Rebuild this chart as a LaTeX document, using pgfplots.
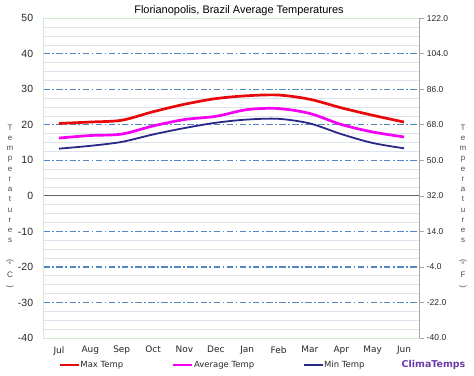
\documentclass[border=0pt]{standalone}
\usepackage{pgfplots}
\pgfplotsset{compat=1.18}
\usepackage{graphicx}
\usepackage{fontspec}
\setmainfont{Liberation Sans}
\newfontfamily\verd{DejaVu Sans}
\definecolor{maxc}{RGB}{232,10,10}
\definecolor{avgc}{RGB}{245,0,245}
\definecolor{minc}{RGB}{40,40,135}
\definecolor{gridlight}{RGB}{222,228,238}
\definecolor{gridv}{RGB}{140,140,140}
\definecolor{dashc}{RGB}{80,135,195}
\definecolor{bordc}{RGB}{204,236,204}
\definecolor{zeroc}{RGB}{100,100,100}
\definecolor{climac}{RGB}{110,60,170}
\pgfplotstableread{
x maxt avgt mint
0 20.4 16.3 13.3
1 20.8 17.0 14.1
2 21.3 17.4 15.2
3 23.7 19.7 17.3
4 25.8 21.5 19.1
5 27.4 22.4 20.6
6 28.2 24.3 21.5
7 28.4 24.6 21.7
8 27.2 23.2 20.4
9 24.8 20.1 17.4
10 22.7 18.0 14.9
11 20.8 16.6 13.4
}\temps
\begin{document}
\begin{tikzpicture}[x=1bp,y=1bp]
\path[use as bounding box] (0,0) rectangle (474,375);
\pgfplotsset{base/.style={at={(43.3bp,37bp)}, anchor=south west, scale only axis,
  width=376.4bp, height=319.7bp, xmin=-0.5, xmax=11.5, ymin=-40, ymax=50}}
% light horizontal lines and vertical month separators
\begin{axis}[base, xtick=\empty,
  ytick={-37.5,-35,-32.5,-27.5,-25,-22.5,-17.5,-15,-12.5,-7.5,-5,-2.5,2.5,5,7.5,12.5,15,17.5,22.5,25,27.5,32.5,35,37.5,42.5,45,47.5},
  yticklabels={}, major tick length=0,
  ymajorgrids, major grid style={gridlight, line width=0.8bp},
  minor xtick={0.5,1.5,...,10.5}, xminorgrids, minor grid style={gridv, line width=0.9bp},
  axis line style={draw=none}]
\end{axis}
% dash-dot lines
\begin{axis}[base, xtick=\empty, ytick={-30,-20,-10,10,20,30,40}, yticklabels={}, major tick length=0,
  ymajorgrids, major grid style={draw=dashc, line width=1.1bp, line cap=butt, dash pattern=on 6.5bp off 2.4bp on 1.8bp off 2.4bp},
  axis line style={draw=none}]
\end{axis}
% zero line
\begin{axis}[base, xtick=\empty, ytick={0}, yticklabels={}, major tick length=0,
  ymajorgrids, major grid style={zeroc, line width=1bp},
  axis line style={draw=none}]
\end{axis}
% main axis
\begin{axis}[base,
  axis line style={draw=bordc, line width=0.8bp},
  xtick={0,...,11},
  xticklabels={Jul,Aug,Sep,Oct,Nov,Dec,Jan,Feb,Mar,Apr,May,Jun},
  ytick={-40,-30,...,50},
  major tick length=0,
  /pgf/number format/assume math mode=true,
  yticklabel style={font=\fontsize{10.5}{12}\selectfont, text=black!85, inner sep=0pt, xshift=-10bp},
  xticklabel style={font=\verd\fontsize{9}{10}\selectfont, text=black!85, inner sep=0pt, yshift=-8bp},
  legend columns=3,
  legend style={at={(axis description cs:0.039,-0.0845)}, anchor=west, draw=none, fill=none,
    inner sep=0pt, font=\verd\fontsize{8.5}{10}\selectfont,
    nodes={inner sep=0.6bp, text=black!85},
    /tikz/every even column/.append style={column sep=48bp}},
  legend image code/.code={\draw[#1] (0bp,0bp) -- (19bp,0bp);},
]
\addplot[maxc, line width=2.7bp, smooth] table[x=x, y=maxt] {\temps};
\addlegendentry{Max Temp}
\addplot[avgc, line width=2.7bp, smooth] table[x=x, y=avgt] {\temps};
\addlegendentry{Average Temp}
\addplot[minc, line width=1.8bp, smooth] table[x=x, y=mint] {\temps};
\addlegendentry{Min Temp}
\end{axis}
% right axis (Fahrenheit)
\begin{axis}[at={(43.3bp,37bp)}, anchor=south west, scale only axis,
  width=376.4bp, height=319.7bp, xmin=-0.5, xmax=11.5,
  ymin=-40, ymax=122, axis x line=none, axis y line*=right,
  axis line style={draw=gray!70, line width=0.8bp},
  ytick={-40,-22,...,122},
  tick align=outside, major tick length=4bp, tick style={gray!70, line width=0.8bp},
  /pgf/number format/assume math mode=true,
  yticklabel style={/pgf/number format/.cd, fixed, fixed zerofill, precision=1, /tikz/.cd,
    font=\fontsize{8.5}{10}\selectfont, text=black!85, inner sep=0pt, xshift=3bp}]
\end{axis}
\node[font=\fontsize{11}{13}\selectfont] at (239,364) {Florianopolis, Brazil Average Temperatures};
\node[align=center, anchor=north, text=black!70, font=\fontsize{8}{10.3}\selectfont] at (10,254)
  {T\\e\\m\\p\\e\\r\\a\\t\\u\\r\\e\\s\\[6bp]\rotatebox{-90}{(}\\[-2bp]°\\C\\[-2bp]\rotatebox{-90}{)}};
\node[align=center, anchor=north, text=black!70, font=\fontsize{8}{10.3}\selectfont] at (463,254)
  {T\\e\\m\\p\\e\\r\\a\\t\\u\\r\\e\\s\\[6bp]\rotatebox{-90}{(}\\[-2bp]°\\F\\[-2bp]\rotatebox{-90}{)}};
\node[font=\verd\bfseries\fontsize{9.5}{11}\selectfont, text=climac] at (433.5,10) {ClimaTemps};
\end{tikzpicture}
\end{document}
